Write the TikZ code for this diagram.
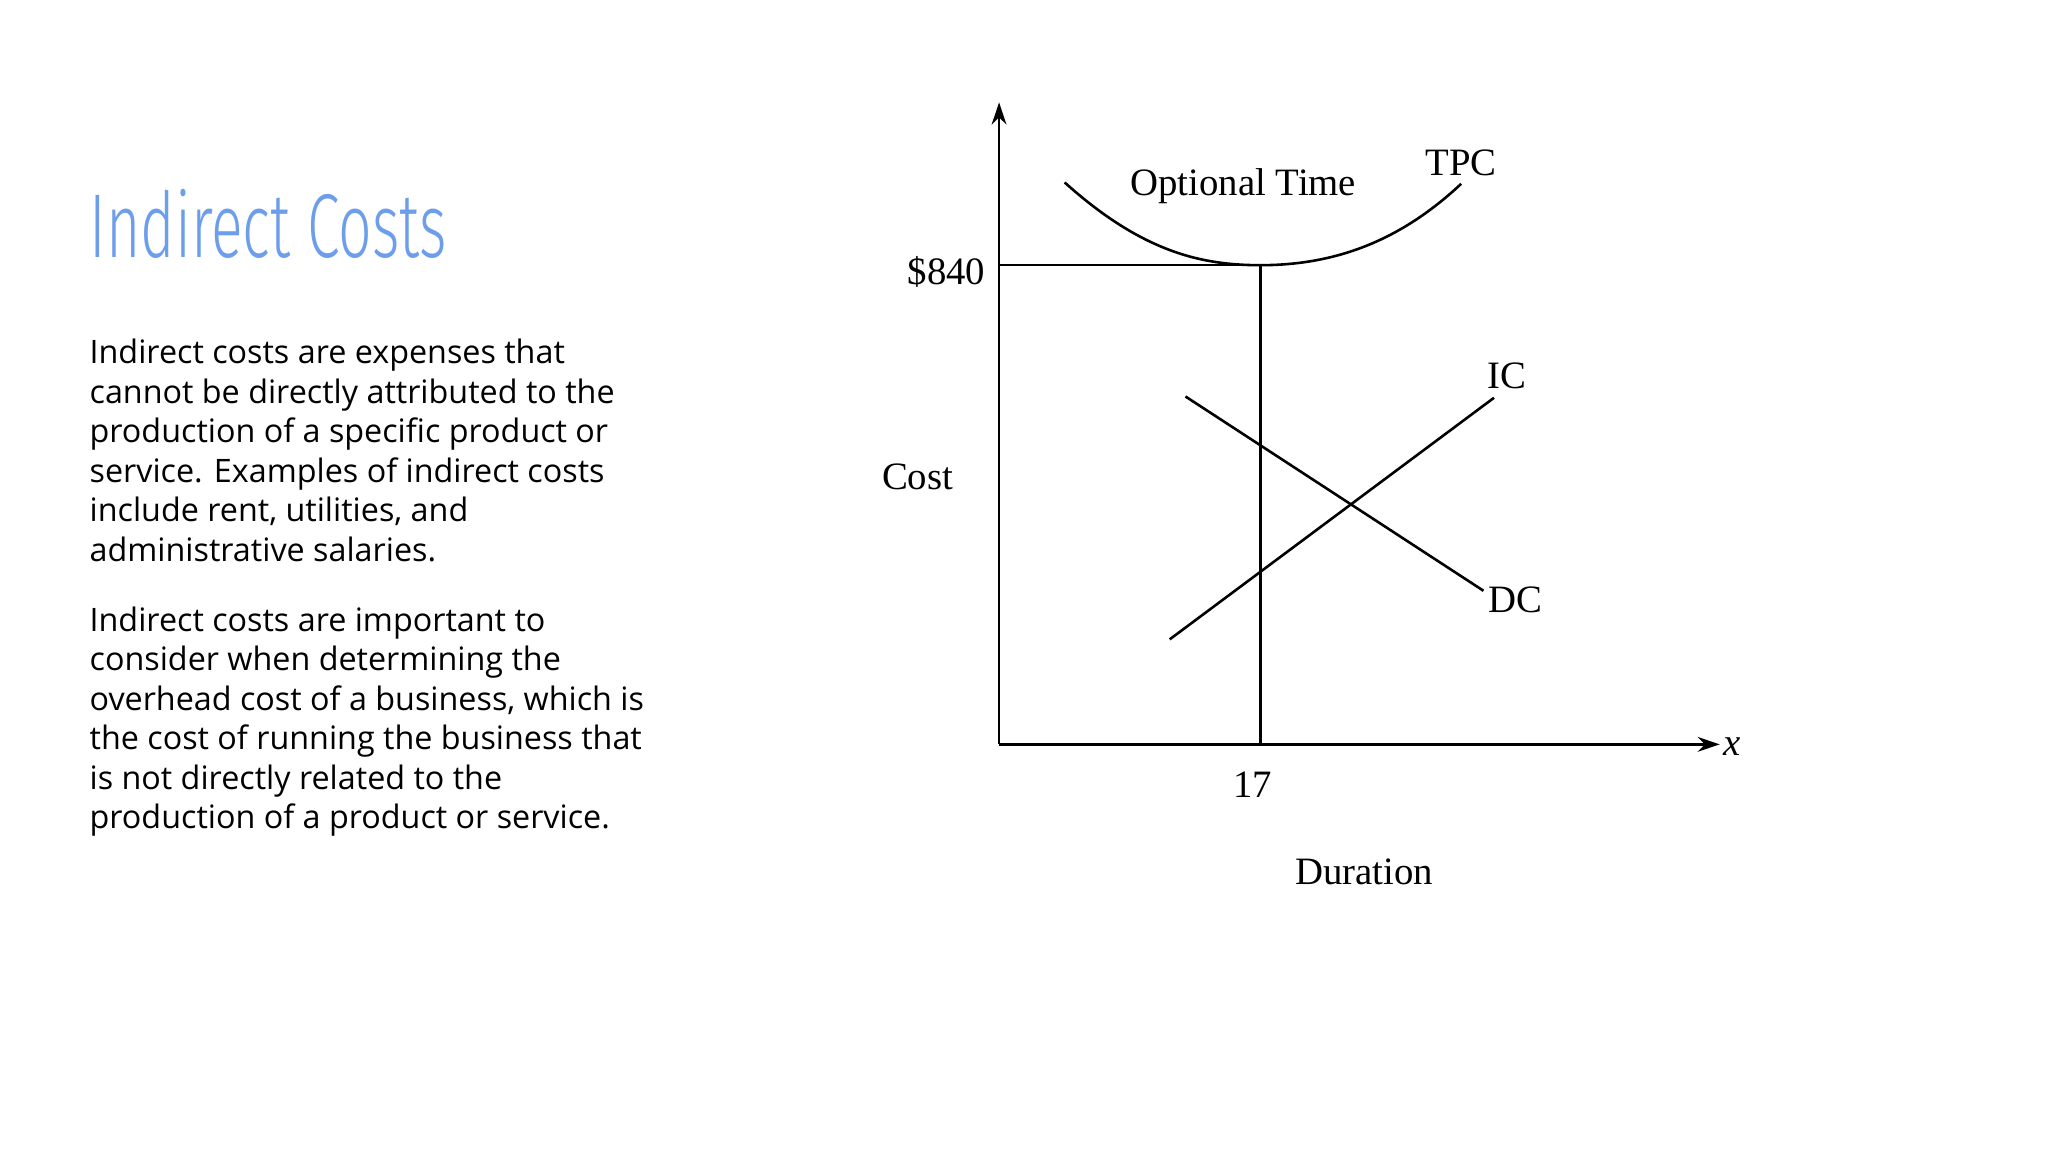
\documentclass[tikz,border=0pt]{standalone}
\usepackage{fontspec}
\setmainfont{Liberation Serif}
\newfontfamily\bodyfont{Open Sans}
\newfontfamily\titlefont{Fira Sans Light}
\usetikzlibrary{arrows.meta}
\definecolor{titleblue}{HTML}{6D9EEB}
\begin{document}
\begin{tikzpicture}[x=0.025cm,y=-0.025cm,
  lbl/.style={font=\fontsize{21}{24}\selectfont, inner sep=0pt},
  ln/.style={line width=1.4pt},
  body/.style={font=\bodyfont\fontsize{17.5}{21.4}\selectfont, align=left, anchor=north west, inner sep=0pt}]
\useasboundingbox (0,0) rectangle (1560,877.5);
\fill[white] (0,0) rectangle (1560,877.5);
\node[anchor=south west, inner sep=0pt, text=titleblue] (title) at (68,197)
  {\resizebox{6.8cm}{1.3cm}{\titlefont Indirect Costs}};
\node[body] (p1) at (68,258) {Indirect costs are expenses that\\cannot be directly attributed to the\\production of a specific product or\\service. Examples of indirect costs\\include rent, utilities, and\\administrative salaries.};
\node[body] (p2) at (68,462) {Indirect costs are important to\\consider when determining the\\overhead cost of a business, which is\\the cost of running the business that\\is not directly related to the\\production of a product or service.};
% axes
\coordinate (O) at (761,567);
\coordinate (ytop) at (761,78);
\coordinate (xend) at (1310,567);
\draw[ln,-{Stealth[length=12pt,width=8pt]}] (O) -- (ytop);
\draw[ln,-{Stealth[length=12pt,width=8pt]}] (O) -- (xend);
\coordinate (y840) at (761,202);
\coordinate (min) at (960,202);
\coordinate (x17) at (960,567);
\draw[ln] (y840) -- (min) -- (x17);
\coordinate (tl) at (811,139);
\coordinate (tr) at (1113,140);
\draw[ln] (tl) .. controls (870,192) and (915,202) .. (min) .. controls (1015,202) and (1065,185) .. (tr);
\coordinate (dc1) at (903,302); \coordinate (dc2) at (1130,450);
\coordinate (ic1) at (891,487); \coordinate (ic2) at (1138,303);
\draw[ln] (dc1) -- (dc2);
\draw[ln] (ic1) -- (ic2);
\node[lbl] (xl) at (1319,569) {\itshape x};
\node[lbl] (opt) at (947,142) {Optional Time};
\node[lbl] (tpc) at (1113,124) {TPC};
\node[lbl] (p840) at (721,207) {\$840};
\node[lbl] (cost) at (699,363) {Cost};
\node[lbl] (ic) at (1148,286) {IC};
\node[lbl] (dc) at (1154,457) {DC};
\node[lbl] (n17) at (954,598) {17};
\node[lbl] (dur) at (1039,664) {Duration};
\end{tikzpicture}
\end{document}
